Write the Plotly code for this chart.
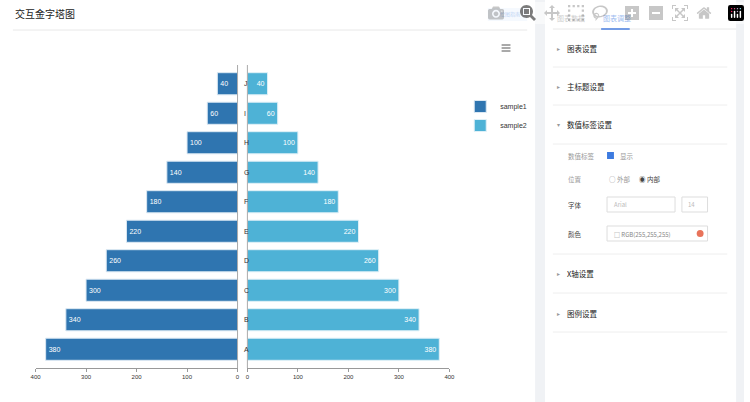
import plotly.graph_objects as go

categories = ["A","B","C","D","E","F","G","H","I","J"]
sample1 = [380,340,300,260,220,180,140,100,60,40]
sample2 = [380,340,300,260,220,180,140,100,60,40]
ticks = [0,100,200,300,400]

W,H = 750,402
px = lambda x: x/W
py = lambda y: 1-y/H
c1, c2 = "#2f75b0", "#4eb2d6"

fig = go.Figure()
fig.add_trace(go.Bar(y=categories, x=sample1, orientation="h", name="sample1", marker=dict(color=c1, line=dict(color="#dbe8f3", width=1)),
                     text=sample1, textposition="inside", insidetextanchor="end", textfont=dict(color="white", size=7, family="Arial"),
                     xaxis="x", yaxis="y"))
fig.add_trace(go.Bar(y=categories, x=sample2, orientation="h", name="sample2", marker=dict(color=c2, line=dict(color="#dff0f7", width=1)),
                     text=sample2, textposition="inside", insidetextanchor="end", textfont=dict(color="white", size=7, family="Arial"),
                     xaxis="x2", yaxis="y2"))

ydom = [py(364), py(69)]
ax = dict(tickvals=ticks, ticks="outside", ticklen=3, tickcolor="#999", showline=True, linecolor="#999", showgrid=False,
          zeroline=False, tickfont=dict(size=6, color="#333", family="Arial"))
fig.update_layout(
    width=W, height=H, margin=dict(l=0,r=0,t=0,b=0), paper_bgcolor="white", plot_bgcolor="rgba(0,0,0,0)",
    bargap=0.25, font=dict(family="Noto Sans CJK SC"),
    xaxis=dict(domain=[px(31), px(236)], range=[400,0], anchor="free", position=py(368), **ax),
    xaxis2=dict(domain=[px(246), px(451)], range=[0,400], anchor="free", position=py(368), **ax),
    yaxis=dict(domain=ydom, showticklabels=False, showgrid=False, anchor="x"),
    yaxis2=dict(domain=ydom, showticklabels=False, showgrid=False, anchor="x2", matches="y"),
    legend=dict(x=px(462), y=py(92), xanchor="left", yanchor="top", font=dict(size=7, family="Arial", color="#333"),
                itemwidth=30, tracegroupgap=2),
    showlegend=True,
)

shapes = [
    dict(type="rect", xref="paper", yref="paper", x0=px(538), x1=1, y0=0, y1=1, fillcolor="#f0f2f5", line_width=0, layer="below"),
    dict(type="rect", xref="paper", yref="paper", x0=px(548), x1=px(742), y0=0, y1=1, fillcolor="white", line_width=0, layer="below"),
    dict(type="line", xref="paper", yref="paper", x0=px(8), x1=px(530), y0=py(30), y1=py(30), line=dict(color="#e8e8e8", width=1)),
    dict(type="line", xref="paper", yref="paper", x0=px(556), x1=px(742), y0=py(29), y1=py(29), line=dict(color="#e8e8e8", width=1)),
    dict(type="line", xref="paper", yref="paper", x0=px(605), x1=px(634), y0=py(29), y1=py(29), line=dict(color="#4a7fe0", width=1.5)),
    dict(type="line", xref="paper", yref="paper", x0=px(236), x1=px(236), y0=py(368), y1=py(65), line=dict(color="#aaa", width=1)),
    dict(type="line", xref="paper", yref="paper", x0=px(246), x1=px(246), y0=py(368), y1=py(65), line=dict(color="#aaa", width=1)),
    dict(type="rect", xref="paper", yref="paper", x0=px(490), x1=px(530), y0=py(21), y1=py(8), fillcolor="#eaf2fc", line_width=0),
]
for y in [45,48,51]:
    shapes.append(dict(type="line", xref="paper", yref="paper", x0=px(504), x1=px(513), y0=py(y), y1=py(y), line=dict(color="#555", width=1)))
for y in [67,105,144,254,293,332]:
    shapes.append(dict(type="line", xref="paper", yref="paper", x0=px(556), x1=px(733), y0=py(y), y1=py(y), line=dict(color="#eee", width=1)))
shapes += [
    dict(type="rect", xref="paper", yref="paper", x0=px(611), x1=px(680), y0=py(212), y1=py(197), line=dict(color="#ddd", width=1)),
    dict(type="rect", xref="paper", yref="paper", x0=px(687), x1=px(713), y0=py(212), y1=py(197), line=dict(color="#ddd", width=1)),
    dict(type="rect", xref="paper", yref="paper", x0=px(611), x1=px(713), y0=py(241), y1=py(226), line=dict(color="#ddd", width=1)),
    dict(type="rect", xref="paper", yref="paper", x0=px(611), x1=px(618), y0=py(159), y1=py(152), fillcolor="#3d7be0", line_width=0),
    dict(type="circle", xref="paper", yref="paper", x0=px(702), x1=px(709), y0=py(237), y1=py(230), fillcolor="#e8735a", line_width=0),
]
fig.update_layout(shapes=shapes)

ann = []
for c in categories:
    ann.append(dict(x=px(241), xref="paper", y=c, yref="y", text=c, showarrow=False, font=dict(size=7, color="#333", family="Arial")))
def t(x, y, s, size=8, color="#333", anchor="left"):
    ann.append(dict(x=px(x), y=py(y), xref="paper", yref="paper", text=s, showarrow=False, xanchor=anchor, yanchor="middle",
                    font=dict(size=size, color=color)))
t(8, 14, "交互金字塔图", 10, "#222")
t(500, 14, "绘图指南", 5, "#7aa7e8")
t(558, 18, "图表数据", 7, "#999")
t(605, 18, "图表调整", 7, "#3a78e0")
for y, s, arr in [(48,"图表设置","▸"),(87,"主标题设置","▸"),(125,"数值标签设置","▾"),(273,"X轴设置","▸"),(313,"图例设置","▸")]:
    t(558, y, arr, 6, "#999")
    t(568, y, s, 7.5, "#222")
t(569, 156, "数值标签", 6.5, "#999"); t(622, 156, "显示", 6.5, "#999")
t(569, 179, "位置", 6.5, "#999"); t(611, 179, "○ 外部", 6.5, "#999"); t(641, 179, "◉ 内部", 6.5, "#444")
t(569, 205, "字体", 6.5, "#444"); t(616, 205, "Arial", 6, "#bbb"); t(691, 205, "14", 6, "#bbb")
t(569, 234, "颜色", 6.5, "#444"); t(616, 234, "□ RGB(255,255,255)", 6, "#888")
fig.update_layout(annotations=ann)

fig.write_html("out.html", post_script="document.body.style.margin='0';document.body.style.overflow='hidden';")
